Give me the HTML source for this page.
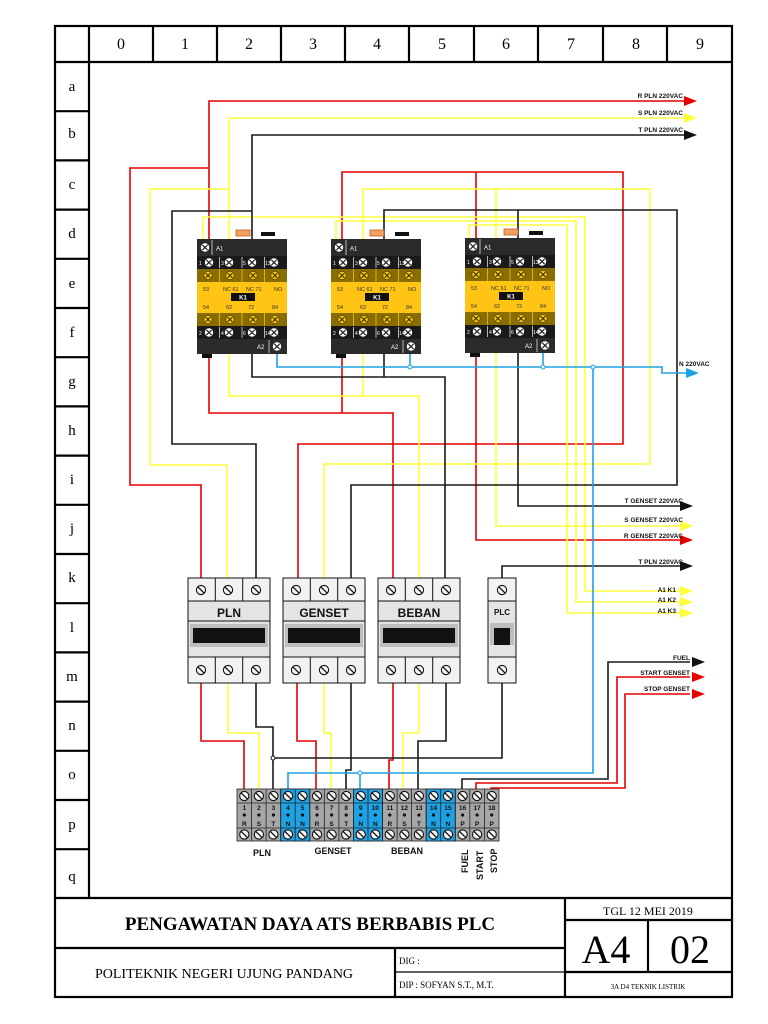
<!DOCTYPE html>
<html><head><meta charset="utf-8"><style>
html,body{margin:0;padding:0;background:#fff;}
svg{display:block;}
.w{fill:none;stroke-width:1.6;stroke-linejoin:miter;}
.r{stroke:#e60000;} .y{stroke:#ffff3a;} .k{stroke:#1a1a1a;} .b{stroke:#1ea2e4;}
.lab{font-family:"Liberation Sans",sans-serif;font-weight:bold;font-size:6.5px;fill:#111;}
.ser{font-family:"Liberation Serif",serif;fill:#000;}
</style></head><body>
<svg width="768" height="1024" viewBox="0 0 768 1024" xmlns="http://www.w3.org/2000/svg">
<defs>
<symbol id="tx" viewBox="-5 -5 10 10"><circle r="4.2" fill="#fff"/><path d="M-2.6-2.6L2.6 2.6M-2.6 2.6L2.6-2.6" stroke="#222" stroke-width="1.2"/></symbol>
<symbol id="ty" viewBox="-5 -5 10 10"><circle r="4.2" fill="#f5c400" stroke="#3a2e00" stroke-width="0.6"/><path d="M-2.4-2.4L2.4 2.4M-2.4 2.4L2.4-2.4" stroke="#3a2e00" stroke-width="1.1"/></symbol>
<symbol id="sc" viewBox="-6 -6 12 12"><circle r="4.6" fill="#f4f4f4" stroke="#111" stroke-width="1.1"/><path d="M-3.1-3.1L3.1 3.1" stroke="#111" stroke-width="1.3"/></symbol>
<symbol id="relay" viewBox="0 -8 90 130">
<rect x="39" y="-6" width="14" height="6" fill="#f4a060" stroke="#c06020" stroke-width="0.8"/>
<rect x="64" y="-4" width="14" height="4" fill="#111"/>
<rect x="0" y="3" width="90" height="17" fill="#2b2b2b"/>
<use href="#tx" x="3" y="6.5" width="10" height="10"/>
<line x1="15" y1="4" x2="15" y2="19" stroke="#ddd" stroke-width="0.8"/>
<text x="19" y="14.5" font-family="Liberation Sans,sans-serif" font-size="6" fill="#fff">A1</text>
<rect x="0" y="20" width="90" height="13" fill="#1a1a1a"/>
<path d="M22.5 21V32M45 21V32M67.5 21V32" stroke="#ddd" stroke-width="0.8"/>
<use href="#tx" x="7" y="21.5" width="10" height="10"/><use href="#tx" x="27" y="21.5" width="10" height="10"/><use href="#tx" x="50" y="21.5" width="10" height="10"/><use href="#tx" x="72" y="21.5" width="10" height="10"/>
<g font-family="Liberation Sans,sans-serif" font-size="5" fill="#fff"><text x="2" y="29">1</text><text x="24" y="29">3</text><text x="46" y="29">5</text><text x="68" y="29">13</text></g>
<rect x="0" y="33" width="90" height="13" fill="#8a6d00"/>
<path d="M22.5 33V46M45 33V46M67.5 33V46" stroke="#f0c000" stroke-width="0.8"/>
<use href="#ty" x="6" y="34.5" width="10" height="10"/><use href="#ty" x="28" y="34.5" width="10" height="10"/><use href="#ty" x="51" y="34.5" width="10" height="10"/><use href="#ty" x="73" y="34.5" width="10" height="10"/>
<rect x="0" y="46" width="90" height="31" fill="#ffc414"/>
<g font-family="Liberation Sans,sans-serif" font-size="5.5" fill="#333"><text x="6" y="55">53</text><text x="26" y="55">NC 61</text><text x="49" y="55">NC 71</text><text x="77" y="55">NO</text>
<text x="6" y="73">54</text><text x="29" y="73">62</text><text x="51" y="73">72</text><text x="75" y="73">84</text></g>
<rect x="34" y="57" width="24" height="8" fill="#111"/>
<text x="46" y="63.5" text-anchor="middle" font-family="Liberation Sans,sans-serif" font-size="6" font-weight="bold" fill="#fff">K1</text>
<rect x="0" y="77" width="90" height="13" fill="#8a6d00"/>
<path d="M22.5 77V90M45 77V90M67.5 77V90" stroke="#f0c000" stroke-width="0.8"/>
<use href="#ty" x="6" y="78.5" width="10" height="10"/><use href="#ty" x="28" y="78.5" width="10" height="10"/><use href="#ty" x="51" y="78.5" width="10" height="10"/><use href="#ty" x="73" y="78.5" width="10" height="10"/>
<rect x="0" y="90" width="90" height="13" fill="#1a1a1a"/>
<path d="M22.5 91V102M45 91V102M67.5 91V102" stroke="#ddd" stroke-width="0.8"/>
<use href="#tx" x="7" y="91.5" width="10" height="10"/><use href="#tx" x="27" y="91.5" width="10" height="10"/><use href="#tx" x="50" y="91.5" width="10" height="10"/><use href="#tx" x="72" y="91.5" width="10" height="10"/>
<g font-family="Liberation Sans,sans-serif" font-size="5" fill="#fff"><text x="2" y="99">2</text><text x="24" y="99">4</text><text x="46" y="99">6</text><text x="68" y="99">14</text></g>
<rect x="0" y="103" width="90" height="15" fill="#2b2b2b"/>
<text x="60" y="113" font-family="Liberation Sans,sans-serif" font-size="6" fill="#fff">A2</text>
<line x1="72" y1="104" x2="72" y2="117" stroke="#ddd" stroke-width="0.8"/>
<use href="#tx" x="75" y="105.5" width="10" height="10"/>
<rect x="5" y="118" width="10" height="4" fill="#111"/>
</symbol>
</defs>

<!-- grid frame -->
<g stroke="#000" stroke-width="2.2" fill="none">
<rect x="55" y="26" width="677" height="971"/>
<line x1="55" y1="62" x2="732" y2="62"/>
<line x1="89" y1="26" x2="89" y2="898"/>
<line x1="55" y1="898" x2="732" y2="898"/>
<path d="M153 26V62M217 26V62M281 26V62M345 26V62M409 26V62M474 26V62M538 26V62M603 26V62M667 26V62"/>
<path d="M55 111.2H89M55 160.4H89M55 209.6H89M55 258.8H89M55 308H89M55 357.2H89M55 406.4H89M55 455.6H89M55 504.8H89M55 554H89M55 603.2H89M55 652.4H89M55 701.6H89M55 750.8H89M55 800H89M55 849.2H89"/>
<line x1="55" y1="948" x2="565" y2="948"/>
<line x1="565" y1="898" x2="565" y2="997"/>
<line x1="395" y1="948" x2="395" y2="997"/>
<line x1="395" y1="972" x2="565" y2="972" stroke-width="1.2"/>
<line x1="565" y1="920" x2="732" y2="920"/>
<line x1="565" y1="972" x2="732" y2="972"/>
<line x1="648" y1="920" x2="648" y2="972"/>
</g>
<g class="ser" font-size="16" text-anchor="middle">
<text x="121" y="49">0</text><text x="185" y="49">1</text><text x="249" y="49">2</text><text x="313" y="49">3</text><text x="377" y="49">4</text><text x="442" y="49">5</text><text x="506" y="49">6</text><text x="571" y="49">7</text><text x="636" y="49">8</text><text x="700" y="49">9</text>
</g>
<g class="ser" font-size="15" text-anchor="middle">
<text x="72" y="91">a</text><text x="72" y="138">b</text><text x="72" y="189">c</text><text x="72" y="238">d</text><text x="72" y="288">e</text><text x="72" y="337">f</text><text x="72" y="386">g</text><text x="72" y="435">h</text><text x="72" y="484">i</text><text x="72" y="533">j</text><text x="72" y="582">k</text><text x="72" y="632">l</text><text x="72" y="681">m</text><text x="72" y="730">n</text><text x="72" y="779">o</text><text x="72" y="829">p</text><text x="72" y="881">q</text>
</g>
<!-- title block text -->
<text class="ser" x="310" y="930" font-size="19" font-weight="bold" text-anchor="middle">PENGAWATAN DAYA ATS BERBABIS PLC</text>
<text class="ser" x="224" y="978" font-size="14" text-anchor="middle">POLITEKNIK NEGERI UJUNG PANDANG</text>
<text class="ser" x="399" y="964" font-size="9">DIG :</text>
<text class="ser" x="399" y="988" font-size="9">DIP :  SOFYAN S.T., M.T.</text>
<text class="ser" x="648" y="915" font-size="12" text-anchor="middle">TGL 12 MEI 2019</text>
<text class="ser" x="606" y="963" font-size="40" text-anchor="middle">A4</text>
<text class="ser" x="690" y="963" font-size="40" text-anchor="middle">02</text>
<text class="ser" x="648" y="989" font-size="7" text-anchor="middle">3A  D4 TEKNIK LISTRIK</text>

<!-- wires -->
<g class="w r">
<polyline points="209,262 209,101 690,101"/>
<polyline points="209,168 130,168 130,485 201,485 201,580"/>
<polyline points="342,262 342,172 623,172 623,444 298,444 298,580"/>
<polyline points="476,262 476,172"/>
<polyline points="209,331 209,413 393,413 393,580"/>
<polyline points="342,331 342,413"/>
<polyline points="476,331 476,540 690,540"/>
<polyline points="201,683 201,741 244,741 244,790"/>
<polyline points="297,683 297,741 316,741 316,790"/>
<polyline points="393,683 393,760 389,760 389,790"/>
<polyline points="476,790 476,783 617,783 617,677 690,677"/>
<polyline points="491,790 491,788 625,788 625,694 690,694"/>
</g>
<g class="w y">
<polyline points="229,262 229,118 690,118"/>
<polyline points="229,189 150,189 150,465 227,465 227,580"/>
<polyline points="363,262 363,189 650,189 650,464 324,464 324,580"/>
<polyline points="496,262 496,189"/>
<polyline points="229,331 229,396 419,396 419,580"/>
<polyline points="363,331 363,396"/>
<polyline points="496,331 496,526 690,526"/>
<polyline points="203,247 203,217 585,217 585,591 690,591"/>
<polyline points="336,247 336,221 576,221 576,602 690,602"/>
<polyline points="469,247 469,225 567,225 567,613 690,613"/>
<polyline points="228,683 228,733 259,733 259,790"/>
<polyline points="324,683 324,733 331,733 331,790"/>
<polyline points="419,683 419,733 403,733 403,790"/>
</g>
<g class="w k">
<polyline points="252,262 252,135 690,135"/>
<polyline points="252,211 172,211 172,444 256,444 256,580"/>
<polyline points="384,262 384,210 677,210 677,485 351,485 351,580"/>
<polyline points="518,262 518,210"/>
<polyline points="252,331 252,377 445,377 445,580"/>
<polyline points="384,331 384,377"/>
<polyline points="518,331 518,506 690,506"/>
<polyline points="502,578 502,566 690,566"/>
<polyline points="256,683 256,727 273,727 273,790"/>
<polyline points="351,683 351,770 346,770 346,790"/>
<polyline points="446,683 446,741 418,741 418,790"/>
<polyline points="273,758 502,758 502,683"/>
<polyline points="462,790 462,779 608,779 608,662 690,662"/>
</g>
<g class="w b">
<polyline points="277,352 277,367 662,367 662,373 690,373"/>
<polyline points="410,352 410,367"/>
<polyline points="543,352 543,367"/>
<polyline points="593,367 593,773 288,773 288,790"/>
<polyline points="360,773 360,790"/>
</g>
<g fill="#fff" stroke="#1ea2e4" stroke-width="1"><circle cx="410" cy="367" r="2"/><circle cx="543" cy="367" r="2"/><circle cx="593" cy="367" r="2"/><circle cx="360" cy="773" r="2"/></g>
<circle cx="273" cy="758" r="2" fill="#fff" stroke="#111" stroke-width="1"/>

<!-- arrows -->
<g>
<polygon points="684,96 697,101 684,106" fill="#e60000"/>
<polygon points="684,113 697,118 684,123" fill="#ffff3a"/>
<polygon points="684,130 697,135 684,140" fill="#111"/>
<polygon points="686,368 699,373 686,378" fill="#1ea2e4"/>
<polygon points="680,501 693,506 680,511" fill="#111"/>
<polygon points="680,521 693,526 680,531" fill="#ffff3a"/>
<polygon points="680,535 693,540 680,545" fill="#e60000"/>
<polygon points="680,561 693,566 680,571" fill="#111"/>
<polygon points="680,586 693,591 680,596" fill="#ffff3a"/>
<polygon points="680,597 693,602 680,607" fill="#ffff3a"/>
<polygon points="680,608 693,613 680,618" fill="#ffff3a"/>
<polygon points="692,657 705,662 692,667" fill="#111"/>
<polygon points="692,672 705,677 692,682" fill="#e60000"/>
<polygon points="692,689 705,694 692,699" fill="#e60000"/>
</g>
<g class="lab" text-anchor="end">
<text x="683" y="98">R PLN 220VAC</text>
<text x="683" y="115">S PLN 220VAC</text>
<text x="683" y="132">T PLN 220VAC</text>
<text x="683" y="503">T GENSET 220VAC</text>
<text x="683" y="522">S GENSET 220VAC</text>
<text x="683" y="538">R GENSET 220VAC</text>
<text x="683" y="564">T PLN 220VAC</text>
<text x="676" y="592">A1 K1</text>
<text x="676" y="602">A1 K2</text>
<text x="676" y="613">A1 K3</text>
<text x="690" y="660">FUEL</text>
<text x="690" y="675">START GENSET</text>
<text x="690" y="691">STOP GENSET</text>
</g>
<text class="lab" x="679" y="366" font-size="8">N 220VAC</text>

<!-- relays -->
<use href="#relay" x="197" y="228" width="90" height="130"/>
<use href="#relay" x="331" y="228" width="90" height="130"/>
<use href="#relay" x="465" y="227" width="90" height="130"/>

<!-- breakers -->
<g stroke="#111" stroke-width="1">
<g id="br1">
<rect x="188" y="578" width="82" height="23" fill="#f2f2f2"/>
<path d="M215.3 578V601M242.7 578V601" fill="none"/>
<rect x="188" y="601" width="82" height="56" fill="#e4e4e4"/>
<path d="M188 621H270" fill="none"/>
<rect x="190" y="624" width="78" height="23" fill="#bdbdbd" stroke="none"/>
<rect x="193" y="628" width="72" height="15" fill="#111" stroke="none"/>
<rect x="188" y="657" width="82" height="26" fill="#f2f2f2"/>
<path d="M215.3 657V683M242.7 657V683" fill="none"/>
</g>
<g transform="translate(95,0)"><rect x="188" y="578" width="82" height="23" fill="#f2f2f2"/><path d="M215.3 578V601M242.7 578V601" fill="none"/><rect x="188" y="601" width="82" height="56" fill="#e4e4e4"/><path d="M188 621H270" fill="none"/><rect x="190" y="624" width="78" height="23" fill="#bdbdbd" stroke="none"/><rect x="193" y="628" width="72" height="15" fill="#111" stroke="none"/><rect x="188" y="657" width="82" height="26" fill="#f2f2f2"/><path d="M215.3 657V683M242.7 657V683" fill="none"/></g>
<g transform="translate(190,0)"><rect x="188" y="578" width="82" height="23" fill="#f2f2f2"/><path d="M215.3 578V601M242.7 578V601" fill="none"/><rect x="188" y="601" width="82" height="56" fill="#e4e4e4"/><path d="M188 621H270" fill="none"/><rect x="190" y="624" width="78" height="23" fill="#bdbdbd" stroke="none"/><rect x="193" y="628" width="72" height="15" fill="#111" stroke="none"/><rect x="188" y="657" width="82" height="26" fill="#f2f2f2"/><path d="M215.3 657V683M242.7 657V683" fill="none"/></g>
<rect x="488" y="578" width="28" height="23" fill="#f2f2f2"/>
<rect x="488" y="601" width="28" height="56" fill="#e4e4e4"/>
<rect x="490" y="623" width="24" height="22" fill="#bdbdbd" stroke="none"/>
<rect x="494" y="628" width="16" height="17" fill="#111" stroke="none"/>
<rect x="488" y="657" width="28" height="26" fill="#f2f2f2"/>
</g>
<g>
<use href="#sc" x="195" y="584" width="12" height="12"/><use href="#sc" x="222" y="584" width="12" height="12"/><use href="#sc" x="250" y="584" width="12" height="12"/>
<use href="#sc" x="290" y="584" width="12" height="12"/><use href="#sc" x="318" y="584" width="12" height="12"/><use href="#sc" x="345" y="584" width="12" height="12"/>
<use href="#sc" x="385" y="584" width="12" height="12"/><use href="#sc" x="413" y="584" width="12" height="12"/><use href="#sc" x="440" y="584" width="12" height="12"/>
<use href="#sc" x="496" y="584" width="12" height="12"/>
<use href="#sc" x="195" y="664" width="12" height="12"/><use href="#sc" x="222" y="664" width="12" height="12"/><use href="#sc" x="250" y="664" width="12" height="12"/>
<use href="#sc" x="290" y="664" width="12" height="12"/><use href="#sc" x="318" y="664" width="12" height="12"/><use href="#sc" x="345" y="664" width="12" height="12"/>
<use href="#sc" x="385" y="664" width="12" height="12"/><use href="#sc" x="413" y="664" width="12" height="12"/><use href="#sc" x="440" y="664" width="12" height="12"/>
<use href="#sc" x="496" y="664" width="12" height="12"/>
</g>
<g font-family="Liberation Sans,sans-serif" font-weight="bold" fill="#111" text-anchor="middle">
<text x="229" y="617" font-size="12">PLN</text>
<text x="324" y="617" font-size="12">GENSET</text>
<text x="419" y="617" font-size="12">BEBAN</text>
<text x="502" y="615" font-size="8">PLC</text>
</g>

<!-- terminal block -->
<g stroke="#222" stroke-width="0.8">
<rect x="237" y="789" width="262" height="52" fill="#a6a6a6"/>
<rect x="280.7" y="789" width="29.1" height="52" fill="#1ea2e4"/>
<rect x="353.4" y="789" width="29.1" height="52" fill="#1ea2e4"/>
<rect x="426.2" y="789" width="29.1" height="52" fill="#1ea2e4"/>
<path d="M251.6 789V841M266.1 789V841M280.7 789V841M295.2 789V841M309.8 789V841M324.3 789V841M338.9 789V841M353.4 789V841M368 789V841M382.5 789V841M397.1 789V841M411.6 789V841M426.2 789V841M440.7 789V841M455.3 789V841M469.8 789V841M484.4 789V841M237 803H499M237 828H499" fill="none"/>
</g>
<g>
<use href="#sc" x="238.3" y="790" width="12" height="12"/><use href="#sc" x="252.9" y="790" width="12" height="12"/><use href="#sc" x="267.4" y="790" width="12" height="12"/><use href="#sc" x="282" y="790" width="12" height="12"/><use href="#sc" x="296.5" y="790" width="12" height="12"/><use href="#sc" x="311" y="790" width="12" height="12"/><use href="#sc" x="325.6" y="790" width="12" height="12"/><use href="#sc" x="340.2" y="790" width="12" height="12"/><use href="#sc" x="354.7" y="790" width="12" height="12"/><use href="#sc" x="369.3" y="790" width="12" height="12"/><use href="#sc" x="383.8" y="790" width="12" height="12"/><use href="#sc" x="398.4" y="790" width="12" height="12"/><use href="#sc" x="412.9" y="790" width="12" height="12"/><use href="#sc" x="427.5" y="790" width="12" height="12"/><use href="#sc" x="442" y="790" width="12" height="12"/><use href="#sc" x="456.6" y="790" width="12" height="12"/><use href="#sc" x="471.1" y="790" width="12" height="12"/><use href="#sc" x="485.7" y="790" width="12" height="12"/>
<use href="#sc" x="238.3" y="828.5" width="12" height="12"/><use href="#sc" x="252.9" y="828.5" width="12" height="12"/><use href="#sc" x="267.4" y="828.5" width="12" height="12"/><use href="#sc" x="282" y="828.5" width="12" height="12"/><use href="#sc" x="296.5" y="828.5" width="12" height="12"/><use href="#sc" x="311" y="828.5" width="12" height="12"/><use href="#sc" x="325.6" y="828.5" width="12" height="12"/><use href="#sc" x="340.2" y="828.5" width="12" height="12"/><use href="#sc" x="354.7" y="828.5" width="12" height="12"/><use href="#sc" x="369.3" y="828.5" width="12" height="12"/><use href="#sc" x="383.8" y="828.5" width="12" height="12"/><use href="#sc" x="398.4" y="828.5" width="12" height="12"/><use href="#sc" x="412.9" y="828.5" width="12" height="12"/><use href="#sc" x="427.5" y="828.5" width="12" height="12"/><use href="#sc" x="442" y="828.5" width="12" height="12"/><use href="#sc" x="456.6" y="828.5" width="12" height="12"/><use href="#sc" x="471.1" y="828.5" width="12" height="12"/><use href="#sc" x="485.7" y="828.5" width="12" height="12"/>
</g>
<g font-family="Liberation Sans,sans-serif" font-weight="bold" font-size="6.5" fill="#111" text-anchor="middle">
<text x="244.3" y="810">1</text><text x="258.9" y="810">2</text><text x="273.4" y="810">3</text><text x="288" y="810">4</text><text x="302.5" y="810">5</text><text x="317" y="810">6</text><text x="331.6" y="810">7</text><text x="346.2" y="810">8</text><text x="360.7" y="810">9</text><text x="375.3" y="810">10</text><text x="389.8" y="810">11</text><text x="404.4" y="810">12</text><text x="418.9" y="810">13</text><text x="433.5" y="810">14</text><text x="448" y="810">15</text><text x="462.6" y="810">16</text><text x="477.1" y="810">17</text><text x="491.7" y="810">18</text>
<text x="244.3" y="826">R</text><text x="258.9" y="826">S</text><text x="273.4" y="826">T</text><text x="288" y="826">N</text><text x="302.5" y="826">N</text><text x="317" y="826">R</text><text x="331.6" y="826">S</text><text x="346.2" y="826">T</text><text x="360.7" y="826">N</text><text x="375.3" y="826">N</text><text x="389.8" y="826">R</text><text x="404.4" y="826">S</text><text x="418.9" y="826">T</text><text x="433.5" y="826">N</text><text x="448" y="826">N</text><text x="462.6" y="826">P</text><text x="477.1" y="826">P</text><text x="491.7" y="826">P</text>
</g>
<g fill="#111">
<circle cx="244.3" cy="815" r="1.6"/><circle cx="258.9" cy="815" r="1.6"/><circle cx="273.4" cy="815" r="1.6"/><circle cx="288" cy="815" r="1.6"/><circle cx="302.5" cy="815" r="1.6"/><circle cx="317" cy="815" r="1.6"/><circle cx="331.6" cy="815" r="1.6"/><circle cx="346.2" cy="815" r="1.6"/><circle cx="360.7" cy="815" r="1.6"/><circle cx="375.3" cy="815" r="1.6"/><circle cx="389.8" cy="815" r="1.6"/><circle cx="404.4" cy="815" r="1.6"/><circle cx="418.9" cy="815" r="1.6"/><circle cx="433.5" cy="815" r="1.6"/><circle cx="448" cy="815" r="1.6"/><circle cx="462.6" cy="815" r="1.6"/><circle cx="477.1" cy="815" r="1.6"/><circle cx="491.7" cy="815" r="1.6"/>
</g>
<g font-family="Liberation Sans,sans-serif" font-weight="bold" font-size="9" fill="#111">
<text x="262" y="856" text-anchor="middle">PLN</text>
<text x="333" y="854" text-anchor="middle">GENSET</text>
<text x="407" y="854" text-anchor="middle">BEBAN</text>
<text transform="translate(468,873) rotate(-90)">FUEL</text>
<text transform="translate(483,880) rotate(-90)">START</text>
<text transform="translate(497,873) rotate(-90)">STOP</text>
</g>
</svg>
</body></html>
